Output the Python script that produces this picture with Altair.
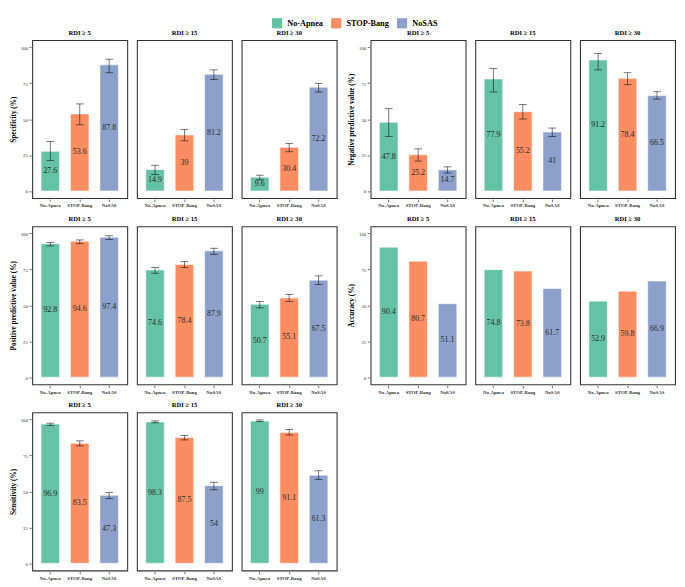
import altair as alt
import pandas as pd

methods = ["No-Apnea", "STOP-Bang", "NoSAS"]
colors = ["#66C2A5", "#FC8D62", "#8DA0CB"]
rdi = ["RDI ≥ 5", "RDI ≥ 15", "RDI ≥ 30"]
y_ticks = [0, 25, 50, 75, 100]

# values[rdi][method]
spec_val = [[27.6, 53.6, 87.8], [14.9, 39, 81.2], [9.6, 30.4, 72.2]]
spec_lo = [[21.3, 46.1, 82.3], [11.4, 34.9, 77.6], [7.8, 27.3, 68.9]]
spec_hi = [[34.5, 60.6, 91.7], [17.9, 42.7, 84.3], [11.0, 33.1, 74.9]]

npv_val = [[47.8, 25.2, 14.7], [77.9, 55.2, 41], [91.2, 78.4, 66.5]]
npv_lo = [[38.0, 20.8, 12.5], [68.9, 50.1, 38.0], [84.3, 74.0, 64.0]]
npv_hi = [[57.3, 29.3, 16.8], [85.2, 60.2, 43.8], [95.7, 82.3, 69.1]]

ppv_val = [[92.8, 94.6, 97.4], [74.6, 78.4, 87.9], [50.7, 55.1, 67.5]]
ppv_lo = [[91.3, 92.9, 95.8], [72.3, 76.3, 85.5], [48.2, 52.7, 64.5]]
ppv_hi = [[93.8, 95.5, 98.4], [76.3, 80.4, 89.7], [52.7, 57.6, 70.5]]

acc_val = [[90.4, 80.7, 51.1], [74.8, 73.8, 61.7], [52.9, 59.8, 66.9]]

sens_val = [[96.9, 83.5, 47.3], [98.3, 87.5, 54], [99, 91.1, 61.3]]
sens_lo = [[96.0, 81.7, 45.0], [97.8, 85.9, 51.2], [98.7, 89.3, 58.4]]
sens_hi = [[97.5, 85.2, 49.4], [99.1, 89.0, 56.4], [99.8, 93.1, 64.4]]

PW, PH = 98, 163
FONT = "Liberation Serif"


def make_df(val, lo=None, hi=None):
    rows = []
    for i, r in enumerate(rdi):
        for j, m in enumerate(methods):
            v = val[i][j]
            rows.append({
                "rdi": r, "method": m, "value": v, "half": v / 2,
                "label": f"{v:g}",
                "lo": lo[i][j] if lo else None,
                "hi": hi[i][j] if hi else None,
            })
    return pd.DataFrame(rows)


def panel(title, val, lo=None, hi=None):
    df = make_df(val, lo, hi)
    x = alt.X("method:N", sort=methods,
              scale=alt.Scale(paddingInner=0.37, paddingOuter=0.3),
              axis=alt.Axis(title=None, labelAngle=0, labelFontWeight="bold",
                            labelFontSize=5, labelPadding=1.5, labelOverlap=False))
    yscale = alt.Scale(domain=[-5, 105], nice=False, zero=False)
    yaxis = alt.Axis(title=title, values=y_ticks, titleFontSize=7.5,
                     titleFontWeight="bold", titlePadding=3,
                     labelFontSize=5, labelPadding=1.5, labelOverlap=False)

    def Y(field):
        return alt.Y(field, scale=yscale, axis=yaxis, title=title)

    base = alt.Chart(df).encode(x=x)
    bars = base.mark_bar(stroke="white", strokeWidth=0.8, strokeOpacity=0.7).encode(
        y=Y("value:Q"),
        y2=alt.datum(0),
        color=alt.Color("method:N", sort=methods,
                        scale=alt.Scale(domain=methods, range=colors),
                        legend=alt.Legend(title=None, orient="none", direction="horizontal",
                                          legendX=247, legendY=-23)),
    )
    layers = [bars]
    if lo is not None:
        rule = base.mark_rule(color="black", opacity=0.6, strokeWidth=0.9).encode(
            y=Y("lo:Q"), y2="hi:Q")
        t1 = base.mark_tick(color="black", opacity=0.6, size=8, thickness=0.9).encode(
            y=Y("lo:Q"))
        t2 = base.mark_tick(color="black", opacity=0.6, size=8, thickness=0.9).encode(
            y=Y("hi:Q"))
        layers += [rule, t1, t2]
    text = base.mark_text(fontSize=8.2, color="#2b2b2b", font=FONT).encode(
        y=Y("half:Q"), text="label:N")
    layers.append(text)
    return alt.layer(*layers).properties(width=PW, height=PH).facet(
        column=alt.Column("rdi:N", sort=rdi,
                          header=alt.Header(title=None, labelFontWeight="bold",
                                            labelFontSize=6.8, labelPadding=3,
                                            labelFont=FONT)),
        spacing=8,
    )


g1 = panel("Specificity (%)", spec_val, spec_lo, spec_hi)
g2 = panel("Negative predictive value (%)", npv_val, npv_lo, npv_hi)
g3 = panel("Positive predictive value (%)", ppv_val, ppv_lo, ppv_hi)
g4 = panel("Accuracy (%)", acc_val)
g5 = panel("Sensitivity (%)", sens_val, sens_lo, sens_hi)

chart = alt.vconcat(
    alt.hconcat(g1, g2, spacing=10),
    alt.hconcat(g3, g4, spacing=10),
    g5,
    spacing=8,
).properties(
    padding={"left": 1, "right": 1, "top": 1, "bottom": 1}
).configure(
    font=FONT
).configure_view(
    stroke="#333333", strokeWidth=1.1
).configure_axis(
    domain=False, ticks=True, tickColor="#333333", tickSize=2.5, tickWidth=0.7,
    labelColor="#333333", titleColor="black", labelFont=FONT, titleFont=FONT,
    grid=False
).configure_legend(
    symbolType="square", symbolSize=110, symbolStrokeWidth=0,
    labelFontSize=8.5, labelFontWeight="bold", labelFont=FONT, labelColor="black",
    columnPadding=8, labelOffset=5
)

chart.save("out.html", embed_options={"renderer": "svg", "actions": False})
